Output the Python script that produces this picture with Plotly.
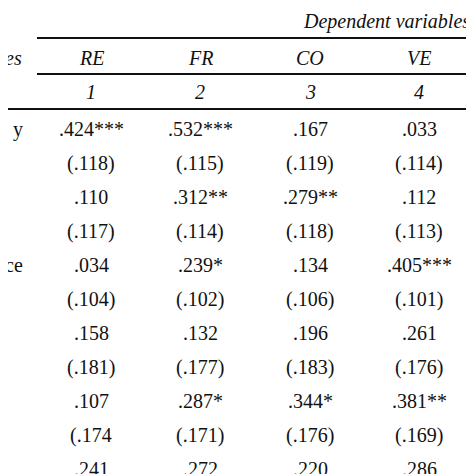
import plotly.graph_objects as go

W = 474
models = ["RE", "FR", "CO", "VE"]
model_nums = ["1", "2", "3", "4"]
row_labels = ["y", "", "", "", "ce", "", "", "", "", "", ""]
cells = [
    [".424***", ".532***", ".167", ".033"],
    ["(.118)", "(.115)", "(.119)", "(.114)"],
    [".110", ".312**", ".279**", ".112"],
    ["(.117)", "(.114)", "(.118)", "(.113)"],
    [".034", ".239*", ".134", ".405***"],
    ["(.104)", "(.102)", "(.106)", "(.101)"],
    [".158", ".132", ".196", ".261"],
    ["(.181)", "(.177)", "(.183)", "(.176)"],
    [".107", ".287*", ".344*", ".381**"],
    ["(.174", "(.171)", "(.176)", "(.169)"],
    [".241", ".272", ".220", ".286"],
]

col_x = [83, 192, 302, 411]
row_y0, row_dy = 121, 34
font = dict(family="Liberation Serif, Times New Roman, DejaVu Serif, serif", size=20, color="#111")

def px(x, y):
    return x / W, 1 - y / W

fig = go.Figure()
ann = []

def add(text, x, y, italic=False, xanchor="center"):
    ax, ay = px(x, y)
    ann.append(dict(text=f"<i>{text}</i>" if italic else text, x=ax, y=ay,
                    xref="paper", yref="paper", showarrow=False,
                    xanchor=xanchor, yanchor="middle", font=font))

add("Dependent variables", 378, 13, italic=True)
add("es", -5, 50, italic=True, xanchor="left")
for m, n, x in zip(models, model_nums, col_x):
    add(m, x, 50, italic=True)
    add(n, x, 84, italic=True)
for i, row in enumerate(cells):
    y = row_y0 + i * row_dy
    if row_labels[i]:
        add(row_labels[i], 17, y, xanchor="right")
    for v, x in zip(row, col_x):
        add(v, x, y)

shapes = []
for x0, y in [(29, 30), (29, 66), (0, 101)]:
    a0, b = px(x0, y)
    shapes.append(dict(type="line", xref="paper", yref="paper", x0=a0, x1=1,
                       y0=b, y1=b, line=dict(color="#111", width=2)))

fig.update_layout(width=W, height=W, margin=dict(l=0, r=0, t=0, b=0),
                  paper_bgcolor="white", plot_bgcolor="white",
                  xaxis=dict(visible=False), yaxis=dict(visible=False),
                  annotations=ann, shapes=shapes)
fig.write_html("out.html")
